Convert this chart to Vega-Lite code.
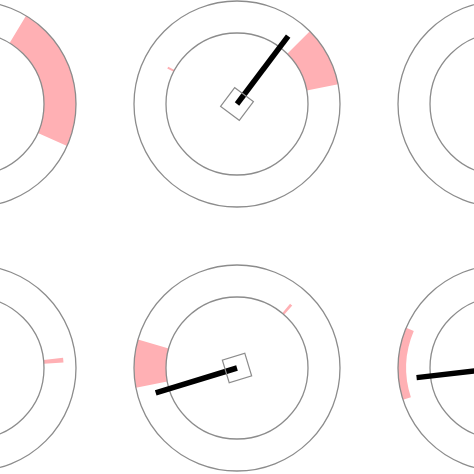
{
  "$schema": "https://vega.github.io/schema/vega-lite/v6.json",
  "width": 474,
  "height": 474,
  "autosize": "none",
  "padding": 0,
  "background": "white",
  "view": {"stroke": null},
  "datasets": {
    "dials": [
      {"col": 0, "row": 0},
      {"col": 1, "row": 0},
      {"col": 2, "row": 0},
      {"col": 0, "row": 1},
      {"col": 1, "row": 1},
      {"col": 2, "row": 1}
    ],
    "sectors": [
      {"col": 0, "row": 0, "start": 31, "end": 114, "rIn": 0.69, "rOut": 1.0},
      {"col": 1, "row": 0, "start": 45, "end": 79, "rIn": 0.69, "rOut": 1.0},
      {"col": 1, "row": 0, "start": 297, "end": 298.5, "rIn": 0.69, "rOut": 0.76},
      {"col": 0, "row": 1, "start": 83.5, "end": 86.5, "rIn": 0.69, "rOut": 0.88},
      {"col": 1, "row": 1, "start": 259, "end": 286, "rIn": 0.69, "rOut": 1.0},
      {"col": 1, "row": 1, "start": 39.5, "end": 41.5, "rIn": 0.69, "rOut": 0.81},
      {"col": 2, "row": 1, "start": 252, "end": 293, "rIn": 0.92, "rOut": 1.0}
    ],
    "needles": [
      {"col": 1, "row": 0, "heading": 37},
      {"col": 1, "row": 1, "heading": 253},
      {"col": 2, "row": 1, "heading": 263.5}
    ]
  },
  "encoding": {
    "x": {
      "field": "col",
      "type": "quantitative",
      "scale": {"domain": [0.1023, 1.8977], "nice": false, "zero": false},
      "axis": null
    },
    "y": {
      "field": "row",
      "type": "quantitative",
      "scale": {"domain": [-0.394, 1.4015], "nice": false, "zero": false, "reverse": true},
      "axis": null
    }
  },
  "layer": [
    {
      "data": {"name": "sectors"},
      "mark": {"type": "arc", "color": "#ffb0b4"},
      "encoding": {
        "theta": {
          "field": "start",
          "type": "quantitative",
          "stack": null,
          "scale": {"domain": [0, 360], "range": [0, 6.2832]}
        },
        "theta2": {"field": "end"},
        "radius": {
          "field": "rOut",
          "type": "quantitative",
          "scale": {"type": "linear", "domain": [0, 1], "range": [0, 103]}
        },
        "radius2": {"field": "rIn"}
      }
    },
    {
      "data": {"name": "dials"},
      "mark": {"type": "point", "shape": "circle", "size": 42436, "filled": false, "stroke": "#8c8c8c", "strokeWidth": 1.3, "opacity": 1}
    },
    {
      "data": {"name": "dials"},
      "mark": {"type": "point", "shape": "circle", "size": 20164, "filled": false, "stroke": "#8c8c8c", "strokeWidth": 1.3, "opacity": 1}
    },
    {
      "data": {"name": "needles"},
      "mark": {
        "type": "point",
        "shape": "M-0.065,0L0.065,0L0.065,-2L-0.065,-2Z",
        "size": 7225,
        "filled": true,
        "color": "black",
        "opacity": 1
      },
      "encoding": {
        "angle": {"field": "heading", "type": "quantitative", "scale": null}
      }
    },
    {
      "data": {"name": "needles"},
      "mark": {"type": "point", "shape": "square", "size": 550, "filled": false, "stroke": "#8c8c8c", "strokeWidth": 1.2, "opacity": 1},
      "encoding": {
        "angle": {"field": "heading", "type": "quantitative", "scale": null}
      }
    }
  ]
}
